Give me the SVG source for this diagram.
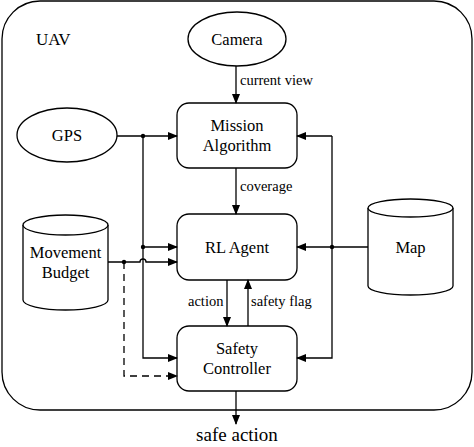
<svg xmlns="http://www.w3.org/2000/svg" width="474" height="447" viewBox="0 0 474 447">
<style>
.s{fill:#fff;stroke:#000;stroke-width:1.3}
.t{font-family:"Liberation Serif","Times New Roman",serif;font-size:16.5px;fill:#000;text-anchor:middle}
.l{font-family:"Liberation Serif","Times New Roman",serif;font-size:14.5px;fill:#000}
.c{fill:none;stroke:#000;stroke-width:1.3}
</style>
<defs>
<marker id="a" markerWidth="10" markerHeight="8" refX="9" refY="4" orient="auto" markerUnits="userSpaceOnUse">
<path d="M0,0 L10,4 L0,8 z" fill="#000"/>
</marker>
</defs>
<rect x="2" y="1" width="470" height="409" rx="38" fill="none" stroke="#000" stroke-width="1.3"/>
<text x="36" y="45" class="t" style="text-anchor:start;font-size:17px">UAV</text>
<g id="camera"><ellipse cx="237" cy="39" rx="49" ry="27" class="s"/><text x="237" y="45" class="t">Camera</text></g>
<g id="gps"><ellipse cx="67" cy="135" rx="50" ry="27" class="s"/><text x="67" y="141" class="t">GPS</text></g>
<g id="mission"><rect x="177" y="103" width="120" height="65" rx="12" class="s"/><text x="237" y="131" class="t">Mission</text><text x="237" y="151" class="t">Algorithm</text></g>
<g id="rl"><rect x="177" y="214" width="120" height="66" rx="12" class="s"/><text x="237" y="253" class="t">RL Agent</text></g>
<g id="safety"><rect x="177" y="326" width="120" height="65" rx="12" class="s"/><text x="237" y="354" class="t">Safety</text><text x="237" y="374" class="t">Controller</text></g>
<g id="budget"><path d="M23,225 L23,300 A42.5,10 0 0 0 108,300 L108,225" class="s"/><ellipse cx="65.5" cy="225" rx="42.5" ry="10" class="s"/><text x="65.5" y="258" class="t">Movement</text><text x="65.5" y="278" class="t">Budget</text></g>
<g id="map"><path d="M368,208 L368,286 A42.5,9 0 0 0 453,286 L453,208" class="s"/><ellipse cx="410.5" cy="208" rx="42.5" ry="9" class="s"/><text x="410.5" y="253" class="t">Map</text></g>
<g id="connectors">
<path d="M236,66 V103" class="c" marker-end="url(#a)"/>
<path d="M236,168 V214" class="c" marker-end="url(#a)"/>
<path d="M227,280 V326" class="c" marker-end="url(#a)"/>
<path d="M248,326 V280" class="c" marker-end="url(#a)"/>
<path d="M236,391 V424" class="c" marker-end="url(#a)"/>
<path d="M117,136 H177" class="c" marker-end="url(#a)"/>
<path d="M143,136 V358 H177" class="c" marker-end="url(#a)"/>
<path d="M143,247 H177" class="c" marker-end="url(#a)"/>
<path d="M108,262 H140 A3,3 0 0 1 146,262 H177" class="c" marker-end="url(#a)"/>
<path d="M124,262 V376 H177" class="c" stroke-dasharray="7,5" marker-end="url(#a)"/>
<path d="M368,247 H297" class="c" marker-end="url(#a)"/>
<path d="M332,136 H297" class="c" marker-end="url(#a)"/>
<path d="M332,136 V358 H297" class="c" marker-end="url(#a)"/>
<circle cx="143" cy="136" r="2.2"/>
<circle cx="143" cy="247" r="2.2"/>
<circle cx="124" cy="262" r="2.2"/>
<circle cx="332" cy="247" r="2.2"/>
<text x="240" y="85" class="l">current view</text>
<text x="240" y="191" class="l">coverage</text>
<text x="188" y="306" class="l">action</text>
<text x="251" y="306" class="l">safety flag</text>
<text x="237" y="441" class="t" style="font-size:19px">safe action</text>
</g>
</svg>
